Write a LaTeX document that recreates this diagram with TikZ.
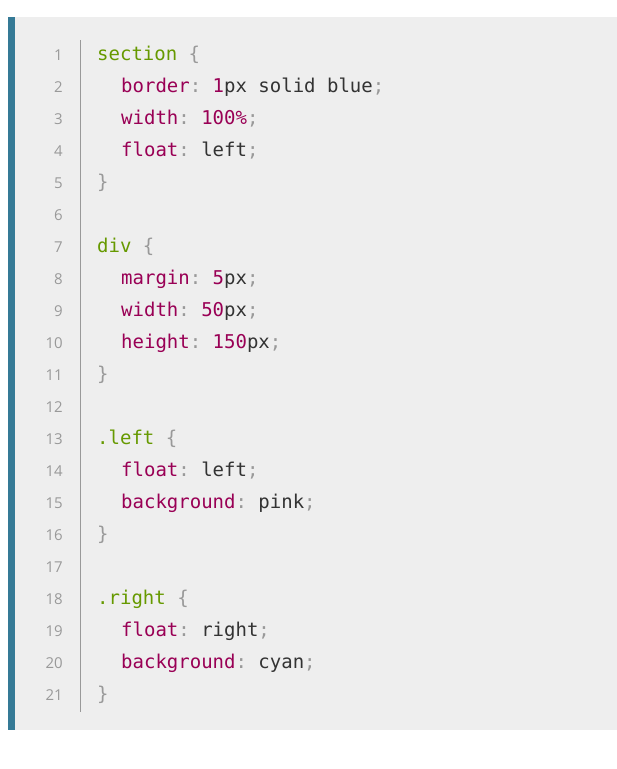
\documentclass[tikz,border=0pt]{standalone}
\usepackage{fontspec}
\setmonofont{DejaVu Sans Mono}
\newfontfamily\numfont{Open Sans}
\definecolor{bgc}{HTML}{EEEEEE}
\definecolor{barc}{HTML}{357A96}
\definecolor{selc}{HTML}{669900}
\definecolor{propc}{HTML}{990055}
\definecolor{punc}{HTML}{999999}
\definecolor{txtc}{HTML}{333333}
\newcommand\cssS[1]{\textcolor{selc}{#1}}
\newcommand\cssP[1]{\textcolor{propc}{#1}}
\newcommand\cssU[1]{\textcolor{punc}{#1}}
\newcommand\cssC{\cssU{:}}
\newcommand\cssE{\cssU{;}}
\begin{document}
\begin{tikzpicture}[x=1pt,y=-1pt,
  code/.style={anchor=base west,inner sep=0pt,font=\fontsize{19}{19}\ttfamily,text=txtc},
  lnum/.style={anchor=base east,inner sep=0pt,font=\fontsize{15}{15}\numfont,text=punc}]
\useasboundingbox (0,0) rectangle (617,769);
\fill[bgc] (8,17) rectangle (617,730);
\fill[barc] (8,17) rectangle (15,730);
\coordinate (st) at (80,40);
\coordinate (sb) at (80,712);
\draw[punc,line width=1pt] (st) -- (sb);
\foreach \i in {1,...,21}{
  \node[lnum] (n\i) at (63,{60+32*(\i-1)}) {\i};
}
\newcommand\cl[3]{\node[code] (l#1) at (#2,{60+32*(#1-1)}) {#3};}
\cl{1}{97}{\cssS{section} \cssU{\{}}
\cl{2}{121}{\cssP{border}\cssC{} \cssP{1}px solid blue\cssE}
\cl{3}{121}{\cssP{width}\cssC{} \cssP{100\%}\cssE}
\cl{4}{121}{\cssP{float}\cssC{} left\cssE}
\cl{5}{97}{\cssU{\}}}
\cl{7}{97}{\cssS{div} \cssU{\{}}
\cl{8}{121}{\cssP{margin}\cssC{} \cssP{5}px\cssE}
\cl{9}{121}{\cssP{width}\cssC{} \cssP{50}px\cssE}
\cl{10}{121}{\cssP{height}\cssC{} \cssP{150}px\cssE}
\cl{11}{97}{\cssU{\}}}
\cl{13}{97}{\cssS{.left} \cssU{\{}}
\cl{14}{121}{\cssP{float}\cssC{} left\cssE}
\cl{15}{121}{\cssP{background}\cssC{} pink\cssE}
\cl{16}{97}{\cssU{\}}}
\cl{18}{97}{\cssS{.right} \cssU{\{}}
\cl{19}{121}{\cssP{float}\cssC{} right\cssE}
\cl{20}{121}{\cssP{background}\cssC{} cyan\cssE}
\cl{21}{97}{\cssU{\}}}
\end{tikzpicture}
\end{document}
